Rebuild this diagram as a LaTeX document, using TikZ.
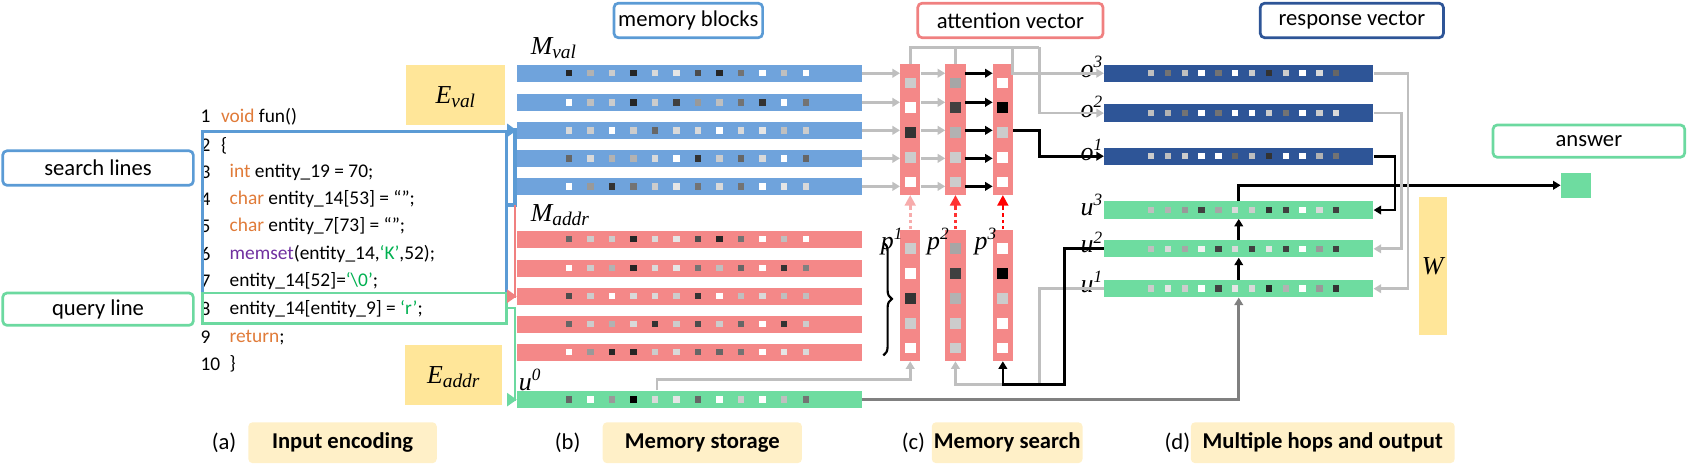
\documentclass[tikz,border=0pt]{standalone}
\usepackage{fontspec}
\setmainfont{Carlito}
\newfontfamily\serifit{Liberation Serif}
\usetikzlibrary{arrows.meta,decorations.pathreplacing}
\definecolor{bblue}{RGB}{111,163,220}
\definecolor{bred}{RGB}{244,136,136}
\definecolor{dblue}{RGB}{46,85,151}
\definecolor{bgreen}{RGB}{110,220,160}
\definecolor{yel}{RGB}{255,230,153}
\definecolor{lyel}{RGB}{255,240,200}
\definecolor{borb}{RGB}{91,155,213}
\definecolor{borr}{RGB}{240,128,128}
\definecolor{borg}{RGB}{108,217,160}
\definecolor{kor}{RGB}{224,123,57}
\definecolor{kpu}{RGB}{112,48,160}
\definecolor{kgr}{RGB}{0,176,80}
\definecolor{lgray}{RGB}{191,191,191}
\definecolor{mgray}{RGB}{128,128,128}
\newcommand\hb[6]{% name, color, xcenter, y, width, grays
  \node[draw=none,fill=#2,minimum width=#5,minimum height=16,inner sep=0] (#1) at (#3,#4) {};
  \foreach \g [count=\i] in {#6} \fill[black!\g!white] (#3-#5/2+28+\i*#5/16-3,#4-3) rectangle ++(6,6);}
\newcommand\vb[4]{% name, x, ytop, grays
  \node[fill=bred,minimum width=19,minimum height=122,inner sep=0,anchor=north] (#1) at (#2,#3) {};
  \foreach \g [count=\i] in {#4} \fill[black!\g!white] (#2-5,#3+\i*23-10) rectangle ++(10,10);}
\begin{document}
\begin{tikzpicture}[x=1pt,y=-1pt,
  lab/.style={draw,line width=2.5,rounded corners=4,inner sep=0,font=\fontsize{21}{24}\selectfont},
  capt/.style={fill=lyel,rounded corners=4,inner sep=0,font=\bfseries\fontsize{21}{24}\selectfont},
  ybox/.style={fill=yel,inner sep=0},
  mi/.style={font=\serifit\itshape\fontsize{24}{26}\selectfont,inner sep=0},
  code/.style={font=\fontsize{18}{20}\selectfont,anchor=west,inner sep=0},
  ga/.style={lgray,line width=2.5,-{Triangle[length=7,width=8]}},
  ka/.style={black,line width=2.5,-{Triangle[length=7,width=8]}},
  ma/.style={mgray,line width=2.5,-{Triangle[length=7,width=8]}}]
\useasboundingbox (0,0) rectangle (1568,434.5);
% top labels
\node[lab,draw=borb,minimum width=138,minimum height=32] (mb) at (639,19) {memory blocks};
\node[lab,draw=borr,minimum width=172,minimum height=32] (av) at (938,19) {attention vector};
\node[lab,draw=dblue,minimum width=170,minimum height=32] (rv) at (1255,19) {response vector};
\node[lab,draw=borg,minimum width=178,minimum height=30] (ans) at (1475,131) {answer};
\node[lab,draw=borb,minimum width=177,minimum height=32] (sl) at (91,156) {search lines};
\node[lab,draw=borg,minimum width=177,minimum height=30] (ql) at (91,287) {query line};
% yellow
\node[ybox,minimum width=92,minimum height=56] (ev) at (423,88) {};
\node[mi] at (423,90) {E\textsubscript{\fontsize{18}{20}\selectfont val}};
\node[ybox,minimum width=90,minimum height=56] (ea) at (421,348) {};
\node[mi] at (421,350) {E\textsubscript{\fontsize{18}{20}\selectfont addr}};
\node[ybox,minimum width=26,minimum height=128] (w) at (1330,247) {};
\node[mi] at (1330,247) {W};
% code
\foreach \n/\yy in {1/108,2/135,3/160,4/185,5/210,6/236,7/261,8/287,9/313,10/338}
  \node[code] at (186,\yy) {\n};
\node[code] at (205,108) {\textcolor{kor}{void} fun()};
\node[code] at (205,135) {\{};
\node[code] at (213,160) {\textcolor{kor}{int} entity\_19 = 70;};
\node[code] at (213,185) {\textcolor{kor}{char} entity\_14[53] = “”;};
\node[code] at (213,210) {\textcolor{kor}{char} entity\_7[73] = “”;};
\node[code] at (213,236) {\textcolor{kpu}{memset}(entity\_14,\textcolor{kgr}{‘K’},52);};
\node[code] at (213,261) {entity\_14[52]=\textcolor{kgr}{‘\textbackslash 0’};};
\node[code] at (213,287) {entity\_14[entity\_9] = \textcolor{kgr}{‘r’};};
\node[code] at (213,313) {\textcolor{kor}{return};};
\node[code] at (213,338) {\}};
\draw[borb,line width=2.5] (188,122) rectangle (470,272);
\node[draw=borg,line width=2.5,minimum width=282,minimum height=28,inner sep=0] (qb) at (329,286) {};
\coordinate (cb) at (470,190);
% memory bars
\hb{v1}{bblue}{640}{68}{320}{85,30,20,85,15,10,70,85,55,0,25,0}
\hb{v2}{bblue}{640}{95}{320}{0,25,20,85,20,75,40,25,55,80,0,55}
\hb{v3}{bblue}{640}{121}{320}{15,20,0,20,60,15,15,0,15,10,25,20}
\hb{v4}{bblue}{640}{147}{320}{60,15,30,30,15,0,80,20,60,15,0,60}
\hb{v5}{bblue}{640}{173}{320}{0,40,80,55,20,10,55,15,55,0,10,15}
\hb{r1}{bred}{640}{222}{320}{60,20,20,85,15,10,70,85,55,0,25,0}
\hb{r2}{bred}{640}{249}{320}{0,20,30,85,15,10,55,25,60,0,80,50}
\hb{r3}{bred}{640}{275}{320}{70,20,0,15,15,20,80,0,25,15,25,25}
\hb{r4}{bred}{640}{301}{320}{60,20,30,15,80,20,70,20,60,0,80,20}
\hb{r5}{bred}{640}{327}{320}{0,40,85,85,20,15,60,60,55,0,10,15}
\hb{u0}{bgreen}{640}{371}{320}{60,0,40,100,15,10,60,0,20,0,25,55}
\node[mi] at (514,45) {M\textsubscript{\fontsize{18}{20}\selectfont val}};
\node[mi] at (520,200) {M\textsubscript{\fontsize{18}{20}\selectfont addr}};
\node[mi] at (492,353) {u\textsuperscript{\fontsize{16}{18}\selectfont 0}};
\draw[decorate,decoration={brace,amplitude=8},line width=2] (820,225) -- (820,330);
% arrows from code
\draw[-{Triangle[length=9,width=12]},color=borb,line width=3.5] (cb) -- (478,190) |- (v3.west);
\draw[-{Triangle[length=9,width=12]},color=borr,line width=2.5] (478,190) |- (r3.west);
\draw[-{Triangle[length=9,width=12]},color=borg,line width=2.5] (qb.east) -- (478,286) |- (u0.west);
% attention columns
\vb{a1}{845}{59}{20,0,80,20,0}
\vb{a2}{887}{59}{35,75,30,20,20}
\vb{a3}{931}{59}{0,100,20,0,0}
\vb{b1}{845}{213}{20,0,80,20,0}
\vb{b2}{887}{213}{35,75,30,20,20}
\vb{b3}{931}{213}{0,100,20,0,0}
\foreach \k/\c/\yy in {1/bred!70/845,2/red!80/887,3/red/931}{
  \draw[\c,line width=2.5,dashed] (\yy,213) -- (\yy,192);
  \draw[-{Triangle[length=10,width=10]},\c,line width=2.5] (\yy,194) -- (\yy,181);}
\node[mi] at (828,224) {p\textsuperscript{\fontsize{16}{18}\selectfont 1}};
\node[mi] at (871,224) {p\textsuperscript{\fontsize{16}{18}\selectfont 2}};
\node[mi] at (915,224) {p\textsuperscript{\fontsize{16}{18}\selectfont 3}};
\foreach \v/\yy in {v1/68,v2/95,v3/121,v4/147,v5/173}{
  \draw[ga] (\v.east) -- (835.5,\yy);
  \draw[ga] (855,\yy) -- (877.5,\yy);
  \draw[ka] (896,\yy) -- (921.5,\yy);}
% response
\hb{o3}{dblue}{1150}{68}{250}{25,55,25,0,55,0,20,80,20,0,15,60}
\hb{o2}{dblue}{1150}{105}{250}{25,30,55,0,55,0,0,20,55,0,20,15}
\hb{o1}{dblue}{1150}{145}{250}{20,25,20,0,0,60,25,80,0,0,30,55}
\node[mi,anchor=east] at (1024,62) {o\textsuperscript{\fontsize{16}{18}\selectfont 3}};
\node[mi,anchor=east] at (1024,99) {o\textsuperscript{\fontsize{16}{18}\selectfont 2}};
\node[mi,anchor=east] at (1024,139) {o\textsuperscript{\fontsize{16}{18}\selectfont 1}};
\hb{u3}{bgreen}{1150}{195}{250}{25,30,40,75,35,15,20,80,75,0,15,75}
\hb{u2}{bgreen}{1150}{231}{250}{25,15,35,5,75,15,75,10,75,0,40,75}
\hb{u1}{bgreen}{1150}{268}{250}{20,10,20,0,75,10,15,85,30,0,40,80}
\node[mi,anchor=east] at (1024,190) {u\textsuperscript{\fontsize{16}{18}\selectfont 3}};
\node[mi,anchor=east] at (1024,225) {u\textsuperscript{\fontsize{16}{18}\selectfont 2}};
\node[mi,anchor=east] at (1024,262) {u\textsuperscript{\fontsize{16}{18}\selectfont 1}};
\node[fill=bgreen,minimum width=28,minimum height=23,inner sep=0] (sq) at (1463,172) {};
% attention top gray lines
\draw[lgray,line width=2.5] (a1.north) -- (845,44) -- (965,44);
\draw[lgray,line width=2.5] (a2.north) -- (887,44);
\draw[ga] (940,44) |- (o3.west);
\draw[ga] (965,44) |- (o2.west);
\draw[ka] (a3.east |- 121,121) -- (965,121) |- (o1.west);
% bottom
\draw[ga] (610,362.5) |- (845,352) -- (b1.south);
\draw[ga] (u1.west) -- (965,268) |- (887,357) -- (b2.south);
\draw[ka] (u2.west) -- (988,231) |- (931,357) -- (b3.south);
\draw[ma] (u0.east) -- (1150,371) -- (u1.south);
\draw[ka] (u1.north) -- (u2.south);
\draw[ka] (u2.north) -- (u3.south);
\draw[ka] (u3.north) |- (sq.west);
\draw[ka] (o1.east) -- (1295,145) |- (u3.east);
\draw[ga] (o2.east) -- (1301,105) |- (u2.east);
\draw[ga] (o3.east) -- (1307,68) |- (u1.east);
% captions
\node[font=\fontsize{21}{24}\selectfont] at (208,411) {(a)};
\node[capt,minimum width=175,minimum height=38] at (318,411) {Input encoding};
\node[font=\fontsize{21}{24}\selectfont] at (527,411) {(b)};
\node[capt,minimum width=185,minimum height=38] at (652,411) {Memory storage};
\node[font=\fontsize{21}{24}\selectfont] at (848,411) {(c)};
\node[capt,minimum width=140,minimum height=38] at (935,411) {Memory search};
\node[font=\fontsize{21}{24}\selectfont] at (1093,411) {(d)};
\node[capt,minimum width=245,minimum height=38] at (1228,411) {Multiple hops and output};
\end{tikzpicture}
\end{document}
